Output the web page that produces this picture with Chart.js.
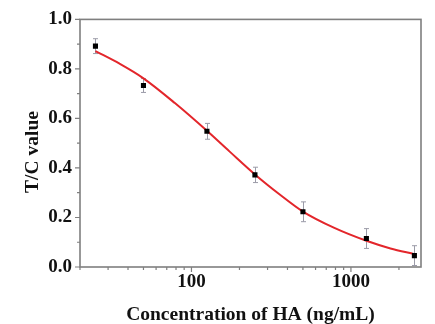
<!DOCTYPE html>
<html>
<head>
<meta charset="utf-8">
<script src="https://cdn.jsdelivr.net/npm/chart.js@4.4.1/dist/chart.umd.min.js"></script>
<style>
  html, body { margin: 0; padding: 0; background: #ffffff; }
  #wrap { width: 435px; height: 324px; position: relative; }
</style>
</head>
<body>
<div id="wrap"><canvas id="chart" width="435" height="324"></canvas></div>
<script>
// Measured T/C ratios for each HA concentration (ng/mL), with standard deviations
const concentrations = [25, 50, 125, 250, 500, 1250, 2500];
const tcValues = [0.892, 0.733, 0.548, 0.372, 0.223, 0.115, 0.046];
const tcErrors = [0.030, 0.028, 0.032, 0.031, 0.040, 0.040, 0.040];

// Fitted calibration curve, sampled along the concentration range
const fitConcentrations = [25, 35.4, 50, 78.7, 125, 173, 250, 356, 500, 787, 1250, 1770, 2500];
const fitValues = [0.872, 0.821, 0.762, 0.662, 0.550, 0.467, 0.374, 0.294, 0.224, 0.158, 0.106, 0.075, 0.052];

// Axis tick labels
const xTickLabels = [100, 1000];
const yTickLabels = [0, 0.2, 0.4, 0.6, 0.8, 1.0];

const axisTitleX = 'Concentration of HA (ng/mL)';
const axisTitleY = 'T/C value';

const FONT = "'Liberation Serif', 'Times New Roman', serif";
const AXIS_COLOR = '#7f7f7f';

const framePlugin = {
  id: 'frameAndBars',
  beforeDatasetsDraw(chart) {
    const { ctx, scales } = chart;
    const xs = scales.x, ys = scales.y;
    // error bars
    ctx.save();
    ctx.strokeStyle = '#9b9ba8';
    ctx.lineWidth = 1;
    concentrations.forEach((c, i) => {
      const px = Math.round(xs.getPixelForValue(c)) + 0.5;
      const top = ys.getPixelForValue(tcValues[i] + tcErrors[i]);
      const bot = ys.getPixelForValue(Math.max(0, tcValues[i] - tcErrors[i]));
      ctx.beginPath();
      ctx.moveTo(px, top); ctx.lineTo(px, bot);
      ctx.moveTo(px - 2.5, top); ctx.lineTo(px + 2.5, top);
      ctx.moveTo(px - 2.5, bot); ctx.lineTo(px + 2.5, bot);
      ctx.stroke();
    });
    ctx.restore();
  },
  afterDraw(chart) {
    const { ctx, chartArea: a, scales } = chart;
    const xs = scales.x, ys = scales.y;
    ctx.save();
    ctx.strokeStyle = AXIS_COLOR;
    ctx.lineWidth = 1.6;
    ctx.strokeRect(a.left, a.top, a.right - a.left, a.bottom - a.top);

    // y ticks: major at labels, minor halfway between
    ctx.lineWidth = 1.2;
    ctx.beginPath();
    yTickLabels.forEach(v => {
      const py = ys.getPixelForValue(v);
      ctx.moveTo(a.left, py); ctx.lineTo(a.left - 5, py);
    });
    for (let i = 0; i < yTickLabels.length - 1; i++) {
      const py = ys.getPixelForValue((yTickLabels[i] + yTickLabels[i + 1]) / 2);
      ctx.moveTo(a.left, py); ctx.lineTo(a.left - 3, py);
    }
    // x ticks: major at decades, minor at each integer multiple
    xTickLabels.forEach(v => {
      const px = xs.getPixelForValue(v);
      ctx.moveTo(px, a.bottom); ctx.lineTo(px, a.bottom + 5);
    });
    for (let dec = 10; dec <= 1000; dec *= 10) {
      for (let m = 2; m <= 9; m++) {
        const v = m * dec;
        if (v < xs.min || v > xs.max) continue;
        const px = xs.getPixelForValue(v);
        ctx.moveTo(px, a.bottom); ctx.lineTo(px, a.bottom + 3);
      }
    }
    ctx.stroke();

    // axis titles
    ctx.fillStyle = '#111111';
    ctx.font = "bold 19.5px " + FONT;
    ctx.textAlign = 'center';
    ctx.textBaseline = 'middle';
    ctx.fillText(axisTitleX, (a.left + a.right) / 2, 315);
    ctx.translate(33, 152);
    ctx.rotate(-Math.PI / 2);
    ctx.fillText(axisTitleY, 0, 0);
    ctx.restore();
  }
};

new Chart(document.getElementById('chart'), {
  type: 'scatter',
  data: {
    datasets: [
      {
        label: 'T/C',
        data: concentrations.map((c, i) => ({ x: c, y: tcValues[i] })),
        pointStyle: 'rect',
        pointRadius: 3.6,
        pointBackgroundColor: '#000000',
        pointBorderColor: '#000000',
        pointBorderWidth: 0,
        showLine: false
      },
      {
        label: 'Fit',
        data: fitConcentrations.map((c, i) => ({ x: c, y: fitValues[i] })),
        showLine: true,
        borderColor: '#e3262b',
        borderWidth: 2,
        pointRadius: 0,
        cubicInterpolationMode: 'monotone',
        fill: false
      }
    ]
  },
  options: {
    responsive: false,
    animation: false,
    devicePixelRatio: 1,
    layout: { padding: { top: 13, right: 14, left: 0, bottom: 0 } },
    plugins: { legend: { display: false }, tooltip: { enabled: false } },
    scales: {
      x: {
        type: 'logarithmic',
        min: 20,
        max: 2750,
        border: { display: false },
        grid: { display: false, drawTicks: false },
        afterBuildTicks: s => { s.ticks = xTickLabels.map(v => ({ value: v })); },
        afterFit: s => { s.height = 57; },
        ticks: {
          padding: 4,
          color: '#111111',
          font: { family: FONT, size: 19, weight: 'bold' },
          maxRotation: 0,
          callback: v => String(v)
        }
      },
      y: {
        min: 0,
        max: 1.0,
        border: { display: false },
        grid: { display: false, drawTicks: false },
        afterBuildTicks: s => { s.ticks = yTickLabels.map(v => ({ value: v })); },
        afterFit: s => { s.width = 80; },
        ticks: {
          padding: 8,
          color: '#111111',
          font: { family: FONT, size: 19, weight: 'bold' },
          callback: v => Number(v).toFixed(1)
        }
      }
    }
  },
  plugins: [framePlugin]
});
</script>
</body>
</html>
